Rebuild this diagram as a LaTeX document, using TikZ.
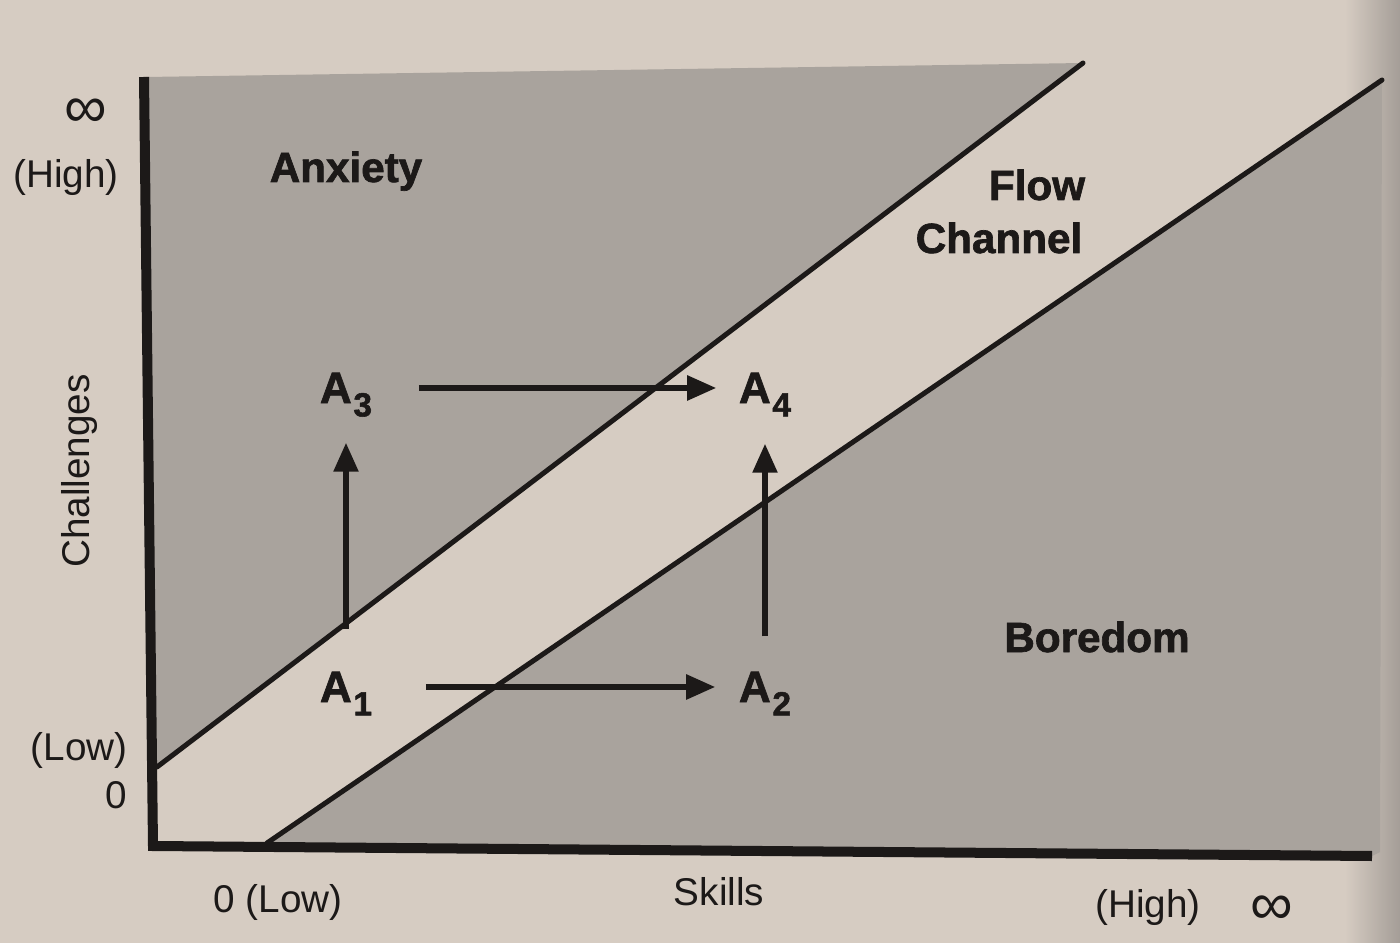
\documentclass[tikz,border=0pt]{standalone}
\usepackage{fontspec}
\setmainfont{Liberation Sans}
\newfontfamily\heavyfont[FakeBold=1.6]{Liberation Sans Bold}
\usetikzlibrary{arrows.meta}
\definecolor{page}{HTML}{D6CCC2}
\definecolor{region}{HTML}{A9A39D}
\definecolor{ink}{HTML}{1C1918}
\definecolor{edge}{HTML}{A49D97}
\begin{document}
\begin{tikzpicture}[x=0.01cm,y=-0.01cm,
  lbl/.style={font=\fontsize{11}{13}\selectfont, inner sep=0, text=ink},
  infsym/.style={font=\fontsize{17}{17}\selectfont, inner sep=0, text=ink},
  reg/.style={font=\heavyfont\fontsize{12}{14}\selectfont, inner sep=0, text=ink, anchor=base},
  anode/.style={font=\heavyfont\fontsize{12.5}{14}\selectfont, inner sep=0, text=ink,
    text height=0.32cm, text depth=0.02cm, anchor=base},
  arr/.style={line width=0.055cm, draw=ink, -{Triangle[length=0.29cm,width=0.24cm]}},
  chanline/.style={line width=0.05cm, draw=ink, line cap=round},
  axisline/.style={line width=0.1cm, draw=ink, line join=miter},
]
\newcommand{\sub}[1]{\kern0.5pt\raisebox{-3.8pt}{\fontsize{9.5}{10}\selectfont #1}}
\useasboundingbox (0,0) rectangle (1400,943);
\fill[page] (0,0) rectangle (1400,943);
\shade[left color=page, right color=edge] (1345,0) rectangle (1400,943);
% shaded regions
\fill[region] (146,77) -- (1083,63) -- (157,767) -- cycle;
\fill[region] (267,843) -- (1382,80) -- (1380,852) -- (1372,856) -- cycle;
% flow channel boundaries
\draw[chanline] (157,767) -- (1083,63);
\draw[chanline] (267,843) -- (1382,80);
% axes
\draw[axisline] (144,77) -- (153,846) -- (1372,856);
% axis labels
\node[infsym] (inftop) at (86,113) {∞};
\node[lbl, anchor=base] (hightop) at (66,188) {(High)};
\node[lbl, rotate=90, anchor=base] (chal) at (90,471) {Challenges};
\node[lbl, anchor=base] (lowleft) at (79,760) {(Low)};
\node[lbl, anchor=base] (zeroleft) at (116,808) {0};
\node[lbl, anchor=base] (zerolow) at (278,912) {0 (Low)};
\node[lbl, anchor=base] (skills) at (719,905) {Skills};
\node[lbl, anchor=base] (highx) at (1148,917) {(High)};
\node[infsym] (infx) at (1272,910) {∞};
% region labels
\node[reg] (anx) at (346,182) {Anxiety};
\node[reg] (flow) at (1037,200) {Flow};
\node[reg] (chan) at (999,253) {Channel};
\node[reg] (bore) at (1097,652) {Boredom};
% states
\node[anode] (a3) at (346,403) {A\sub{3}};
\node[anode] (a4) at (765,403) {A\sub{4}};
\node[anode] (a1) at (346,702) {A\sub{1}};
\node[anode] (a2) at (765,702) {A\sub{2}};
% transitions
\draw[arr, shorten <=0.46cm, shorten >=0.22cm] (a3) -- (a4);
\draw[arr, shorten <=0.53cm, shorten >=0.23cm] (a1) -- (a2);
\draw[arr, shorten <=0.40cm, shorten >=0.37cm] (a1) -- (a3);
\draw[arr, shorten <=0.33cm, shorten >=0.38cm] (a2) -- (a4);
\end{tikzpicture}
\end{document}
